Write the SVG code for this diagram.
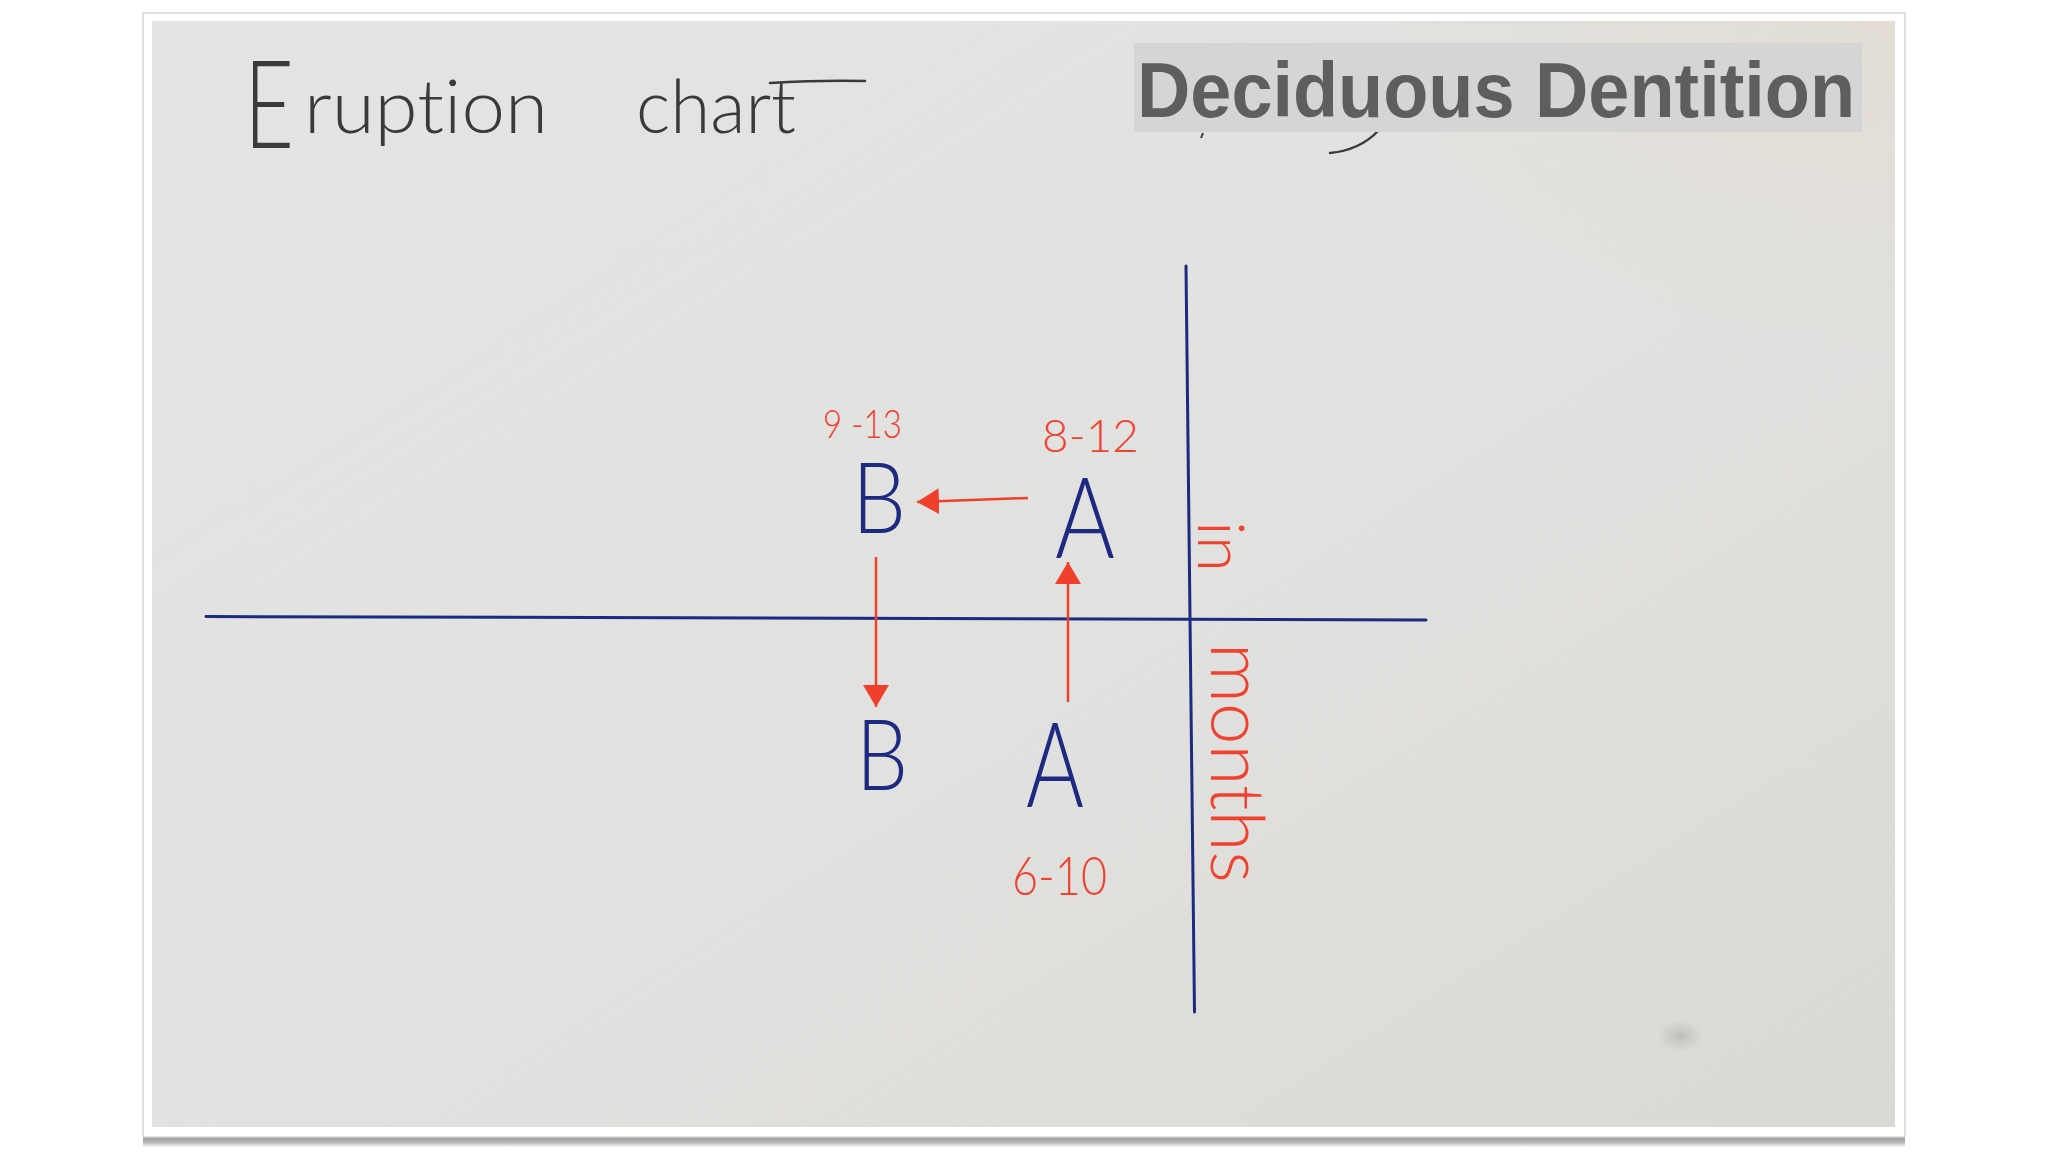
<svg xmlns="http://www.w3.org/2000/svg" width="2048" height="1152" viewBox="0 0 2048 1152">
  <defs>
    <linearGradient id="paper" x1="0" y1="0" x2="1" y2="1">
      <stop offset="0" stop-color="#e4e4e2"/>
      <stop offset="0.55" stop-color="#e1e1df"/>
      <stop offset="1" stop-color="#dbd9d5"/>
    </linearGradient>
    <radialGradient id="warm" cx="1" cy="0" r="0.3">
      <stop offset="0" stop-color="#e4d9cb" stop-opacity="0.55"/>
      <stop offset="1" stop-color="#e4d9cb" stop-opacity="0"/>
    </radialGradient>
    <linearGradient id="shadow" x1="0" y1="0" x2="0" y2="1">
      <stop offset="0" stop-color="#8e8e8e"/>
      <stop offset="0.6" stop-color="#c4c4c4"/>
      <stop offset="1" stop-color="#ffffff" stop-opacity="0"/>
    </linearGradient>
    <radialGradient id="smudge" cx="0.5" cy="0.5" r="0.5">
      <stop offset="0" stop-color="#b9b7b4" stop-opacity="0.8"/>
      <stop offset="1" stop-color="#b9b7b4" stop-opacity="0"/>
    </radialGradient>
    <marker id="head" viewBox="0 0 22 26" refX="22" refY="13" markerWidth="22" markerHeight="26" markerUnits="userSpaceOnUse" orient="auto">
      <path d="M0,0 L22,13 L0,26 Z" fill="#f0402c"/>
    </marker>
  </defs>
  <style>
    .hand { font-family: Lato, "Open Sans", "Liberation Sans", sans-serif; font-weight: 300; font-variant-ligatures: none; }
    .ink { fill: #3a3a3a; }
    .red { fill: #ef4330; }
    .blue { fill: #1d2a80; }
    .axis { stroke: #1d2a80; stroke-width: 3; fill: none; stroke-linecap: round; }
    .arrow { stroke: #f0402c; stroke-width: 2.5; fill: none; marker-end: url(#head); }
    .title { font-family: "Liberation Sans", Arial, sans-serif; font-weight: bold; fill: #5e5e5e; }
  </style>

  <!-- frame -->
  <g id="frame">
    <rect x="143" y="1136" width="1762" height="13" fill="url(#shadow)"/>
    <rect x="143" y="13" width="1762" height="1124" fill="#ffffff" stroke="#d6d6d6" stroke-width="1.5"/>
    <rect x="152" y="21" width="1743" height="1106" fill="url(#paper)"/>
    <rect x="152" y="21" width="1743" height="1106" fill="url(#warm)"/>
    <ellipse cx="1680" cy="1036" rx="22" ry="16" fill="url(#smudge)"/>
  </g>

  <!-- handwritten heading -->
  <g id="heading">
    <text class="hand ink" x="244" y="148" font-size="122" textLength="50" lengthAdjust="spacingAndGlyphs">E</text>
    <text class="hand ink" x="304" y="133" font-size="74" textLength="244" lengthAdjust="spacingAndGlyphs">ruption</text>
    <text class="hand ink" x="636" y="133" font-size="74" textLength="160" lengthAdjust="spacingAndGlyphs">chart</text>
    <path d="M770,83 Q820,80 865,81" stroke="#3a3a3a" stroke-width="2.5" fill="none" stroke-linecap="round"/>
    <path d="M1330,153 Q1360,150 1378,131" stroke="#3a3a3a" stroke-width="2.5" fill="none" stroke-linecap="round"/>
    <path d="M1201,138 L1203,133" stroke="#3a3a3a" stroke-width="2" fill="none"/>
  </g>

  <!-- title banner -->
  <g id="title">
    <rect x="1134" y="43" width="728" height="89" fill="#d5d5d5"/>
    <text class="title" x="1137" y="117" font-size="78" textLength="718" lengthAdjust="spacingAndGlyphs">Deciduous Dentition</text>
  </g>

  <!-- axes -->
  <g id="axes">
    <path class="axis" d="M206,616.5 L1426,620"/>
    <path class="axis" d="M1186,266 L1194.5,1012"/>
  </g>

  <!-- nodes -->
  <g id="node-B-upper">
    <text class="hand blue" x="852" y="533" font-size="98" textLength="54" lengthAdjust="spacingAndGlyphs">B</text>
    <text class="hand red" x="823" y="438" font-size="40" textLength="79" lengthAdjust="spacingAndGlyphs">9 -13</text>
  </g>
  <g id="node-A-upper">
    <text class="hand blue" x="1055" y="558" font-size="113" textLength="60" lengthAdjust="spacingAndGlyphs">A</text>
    <text class="hand red" x="1042" y="452" font-size="46" textLength="97" lengthAdjust="spacingAndGlyphs">8-12</text>
  </g>
  <g id="node-B-lower">
    <text class="hand blue" x="856" y="790" font-size="98" textLength="52" lengthAdjust="spacingAndGlyphs">B</text>
  </g>
  <g id="node-A-lower">
    <text class="hand blue" x="1026" y="807" font-size="118" textLength="58" lengthAdjust="spacingAndGlyphs">A</text>
    <text class="hand red" x="1012" y="895" font-size="54" textLength="95" lengthAdjust="spacingAndGlyphs">6-10</text>
  </g>

  <!-- axis labels -->
  <g id="axis-label">
    <text class="hand red" x="1198" y="521" font-size="66" transform="rotate(90 1198 521)">in</text>
    <text class="hand red" x="1211" y="643" font-size="74" textLength="240" lengthAdjust="spacingAndGlyphs" transform="rotate(90 1211 643)">months</text>
  </g>

  <!-- connectors -->
  <g id="connectors">
    <path class="arrow" d="M1028,498 L917,502"/>
    <path class="arrow" d="M876,557 L876,707"/>
    <path class="arrow" d="M1068,702 L1068,562"/>
  </g>
</svg>
